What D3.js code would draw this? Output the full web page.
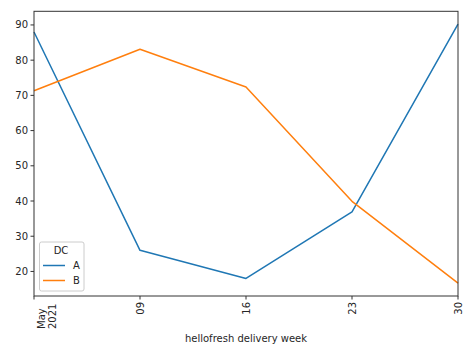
<!DOCTYPE html>
<html><head><meta charset="utf-8">
<script src="https://cdn.jsdelivr.net/npm/d3@7"></script>
<style>body{margin:0;background:#fff}svg{display:block}text{font-family:"DejaVu Sans",sans-serif;fill:#262626}</style>
</head><body>
<svg id="c" width="474" height="355"></svg>
<script>
const dates = ["2021-05-02","2021-05-09","2021-05-16","2021-05-23","2021-05-30"];
const seriesA = [88.0, 26.0, 18.0, 36.9, 90.2];
const seriesB = [71.3, 83.1, 72.4, 39.9, 16.7];
const seriesNames = ["A","B"];
const colors = ["#1f77b4","#ff7f0e"];
const yTicks = [20,30,40,50,60,70,80,90];
const xTickLabels = [["May","2021"],["09"],["16"],["23"],["30"]];

const parse = d3.timeParse("%Y-%m-%d");
const xs = dates.map(parse);
const svg = d3.select("#c");
const L=34, R=458, T=11.3, B=296;
const x = d3.scaleTime().domain(d3.extent(xs)).range([L,R]);
const all = seriesA.concat(seriesB);
const mn = d3.min(all), mx = d3.max(all), pad=(mx-mn)*0.05;
const y = d3.scaleLinear().domain([mn-pad, mx+pad]).range([B,T]);

const line = d3.line().x((d,i)=>x(xs[i])).y(d=>y(d));
[seriesA, seriesB].forEach((s,k)=>{
  svg.append("path").attr("d", line(s)).attr("fill","none")
    .attr("stroke", colors[k]).attr("stroke-width",1.5).attr("stroke-linejoin","round");
});

// frame
svg.append("rect").attr("x",L).attr("y",T).attr("width",R-L).attr("height",B-T)
  .attr("fill","none").attr("stroke","#333").attr("stroke-width",1);

// y axis
const ya = svg.append("g");
yTicks.forEach(t=>{
  ya.append("line").attr("x1",L-3.5).attr("x2",L).attr("y1",y(t)).attr("y2",y(t)).attr("stroke","#333");
  ya.append("text").attr("x",L-6).attr("y",y(t)).attr("text-anchor","end")
    .attr("dominant-baseline","central").attr("font-size",10).text(t);
});

// x axis
xs.forEach((d,i)=>{
  const px = x(d);
  svg.append("line").attr("x1",px).attr("x2",px).attr("y1",B).attr("y2",B+3.5).attr("stroke","#333");
  const lab = xTickLabels[i];
  if (lab.length===1){
    svg.append("text").attr("transform",`translate(${px},${B+6}) rotate(-90)`)
      .attr("text-anchor","end").attr("dominant-baseline","central").attr("font-size",10).text(lab[0]);
  } else {
    lab.forEach((t,j)=>{
      svg.append("text").attr("transform",`translate(${px+7+j*11.5},329) rotate(-90)`)
        .attr("text-anchor","start").attr("dominant-baseline","central").attr("font-size",10).text(t);
    });
  }
});

svg.append("text").attr("x",(L+R)/2).attr("y",342).attr("text-anchor","middle")
  .attr("font-size",10).text("hellofresh delivery week");

// legend
const lg = svg.append("g");
lg.append("rect").attr("x",39.5).attr("y",242).attr("width",44.5).attr("height",49).attr("rx",2)
  .attr("fill","#fff").attr("fill-opacity",0.8).attr("stroke","#ccc").attr("stroke-width",1);
lg.append("text").attr("x",61).attr("y",250.5).attr("text-anchor","middle")
  .attr("dominant-baseline","central").attr("font-size",10).text("DC");
seriesNames.forEach((n,k)=>{
  const yy = 265.5 + k*15;
  lg.append("line").attr("x1",43).attr("x2",65).attr("y1",yy).attr("y2",yy)
    .attr("stroke",colors[k]).attr("stroke-width",1.5);
  lg.append("text").attr("x",73).attr("y",yy).attr("dominant-baseline","central")
    .attr("font-size",10).text(n);
});
</script>
</body></html>
